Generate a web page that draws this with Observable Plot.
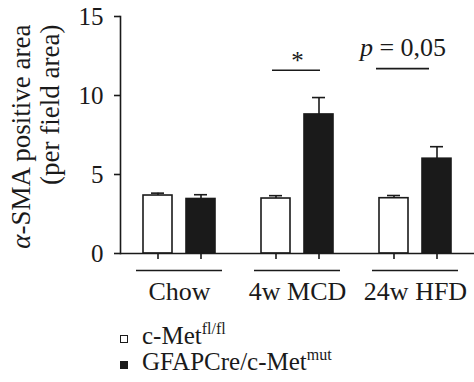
<!DOCTYPE html>
<html>
<head>
<meta charset="utf-8">
<script src="https://cdn.jsdelivr.net/npm/d3@7"></script>
<script src="https://cdn.jsdelivr.net/npm/@observablehq/plot@0.6"></script>
<style>
  html, body { margin: 0; padding: 0; background: #ffffff; }
  #wrap { position: relative; width: 474px; height: 382px; }
  #legend { position: absolute; left: 0; top: 323px; font-family: "Liberation Serif", serif; font-size: 25px; color: #1a1a1a; }
  .row { height: 26px; line-height: 26px; white-space: nowrap; padding-left: 120px; }
  .sq { display: inline-block; width: 6px; height: 6px; border: 1.5px solid #1a1a1a; margin-right: 14px; vertical-align: baseline; margin-bottom: 1px; }
  .sup { font-size: 16px; vertical-align: 10px; line-height: 0; }
</style>
</head>
<body>
<div id="wrap"><div id="chart"></div><div id="legend"></div></div>
<script>
// ---- data ----
const groups = ["Chow", "4w MCD", "24w HFD"];
const genotypes = ["c-Met fl/fl", "GFAPCre/c-Met mut"];
const genotypeNames = ["c-Met", "GFAPCre/c-Met"];
const genotypeSups = ["fl/fl", "mut"];
const wtMeans = [3.67, 3.48, 3.5];
const wtErrors = [0.15, 0.18, 0.17];
const mutMeans = [3.45, 8.8, 6.0];
const mutErrors = [0.27, 1.07, 0.76];
const yTicks = [0, 5, 10, 15];
const yLabelLines = ["α-SMA positive area", "(per field area)"];
const annotGroups = ["4w MCD", "24w HFD"];
const annotLabels = ["*", "p = 0,05"];
const annotY = [11.6, 11.7];

const ink = "#1a1a1a";
const font = "'Liberation Serif', serif";

const data = groups.flatMap((g, i) => [
  {group: g, genotype: genotypes[0], value: wtMeans[i], err: wtErrors[i]},
  {group: g, genotype: genotypes[1], value: mutMeans[i], err: mutErrors[i]}
]);
const annots = annotGroups.map((g, i) => ({group: g, label: annotLabels[i], y: annotY[i]}));

const chart = Plot.plot({
  width: 474,
  height: 318,
  marginLeft: 120,
  marginRight: 0,
  marginTop: 16,
  marginBottom: 65,
  style: {fontFamily: font, color: ink, background: "transparent"},
  fx: {domain: groups, padding: 0, label: null},
  x: {domain: genotypes, paddingInner: 0.318, paddingOuter: 0.5, label: null},
  y: {domain: [0, 15], label: null},
  color: {domain: genotypes, range: ["#ffffff", ink]},
  marks: [
    Plot.barY(data, {fx: "group", x: "genotype", y: "value", fill: "genotype", stroke: ink, strokeWidth: 1.6}),
    Plot.ruleX(data, {fx: "group", x: "genotype", y1: "value", y2: d => d.value + d.err, stroke: ink, strokeWidth: 1.6}),
    Plot.tickY(data, {fx: "group", x: "genotype", y: d => d.value + d.err, stroke: ink, strokeWidth: 1.6, insetLeft: 8, insetRight: 8}),
    Plot.ruleY([0], {stroke: ink, strokeWidth: 1.6}),
    Plot.ruleY([0], {dy: 17, insetLeft: 16, insetRight: 16, stroke: ink, strokeWidth: 1.6}),
    Plot.frame({anchor: "left", facetAnchor: "left", stroke: ink, strokeWidth: 1.6}),
    Plot.axisY({ticks: yTicks, tickSize: 6, tickPadding: 11, fontSize: 25, label: null, stroke: ink, strokeWidth: 1.6}),
    Plot.axisX({tickSize: 6, tickFormat: () => "", label: null, stroke: ink, strokeWidth: 1.6}),
    Plot.axisFx({anchor: "bottom", tickSize: 0, tickPadding: 28.5, fontSize: 26, label: null}),
    Plot.ruleY([annots[0]], {fx: "group", y: "y", insetLeft: 34, insetRight: 36, stroke: ink, strokeWidth: 1.6}),
    Plot.ruleY([annots[1]], {fx: "group", y: "y", insetLeft: 20, insetRight: 45, stroke: ink, strokeWidth: 1.6}),
    Plot.text([annots[0]], {fx: "group", y: "y", text: "label", lineAnchor: "bottom", dy: -1, fontSize: 25, fill: ink}),
    Plot.text([annots[1]], {fx: "group", y: "y", text: "label", lineAnchor: "bottom", dx: -12.5, dy: -13, fontSize: 26, fill: ink}),
    Plot.text([yLabelLines.join("\n")], {frameAnchor: "top-left", facetAnchor: "left", rotate: -90, textAnchor: "end", lineAnchor: "top", lineHeight: 1.08, fontSize: 27, dx: -111.7, dy: 8, fill: ink})
  ]
});
document.getElementById("chart").appendChild(chart);

// italic α and p
d3.select(chart).selectAll("text, tspan").each(function() {
  const el = d3.select(this);
  if (this.childElementCount === 0 && this.textContent === yLabelLines[0]) {
    el.text("");
    el.append("tspan").attr("font-style", "italic").text("α");
    el.append("tspan").text(yLabelLines[0].slice(1));
  } else if (this.childElementCount === 0 && this.textContent === annotLabels[1]) {
    el.text("");
    el.append("tspan").attr("font-style", "italic").text("p");
    el.append("tspan").text(annotLabels[1].slice(1));
  }
});

// legend
const legend = d3.select("#legend");
genotypes.forEach((g, i) => {
  const row = legend.append("div").attr("class", "row");
  row.append("span").attr("class", "sq").style("background", i === 0 ? "#ffffff" : ink);
  row.append("span").text(genotypeNames[i]);
  row.append("span").attr("class", "sup").text(genotypeSups[i]);
});
</script>
</body>
</html>
